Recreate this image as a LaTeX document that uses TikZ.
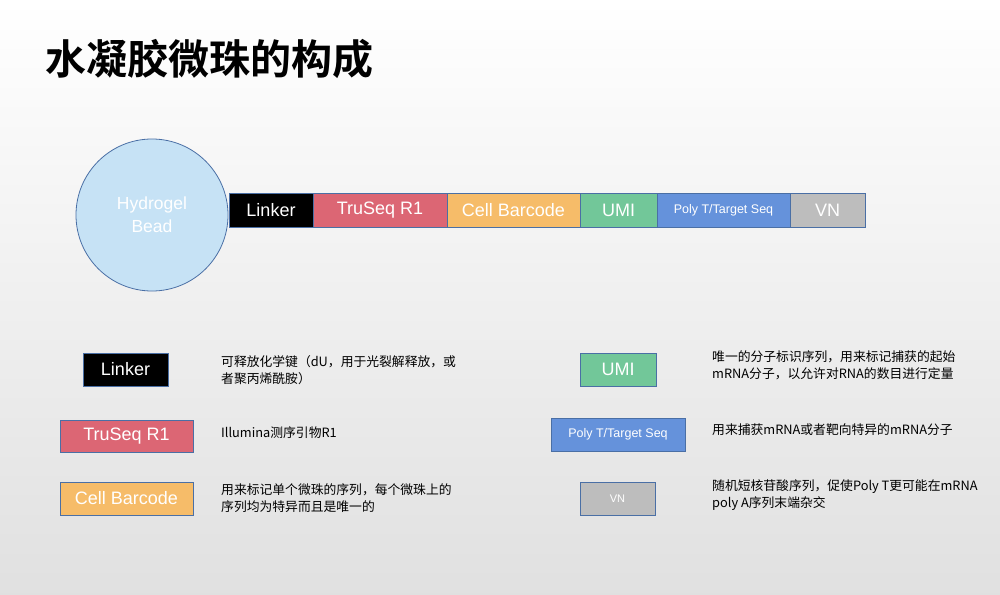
\documentclass[tikz,border=0pt]{standalone}
\usepackage{fontspec}
\setmainfont{Liberation Sans}
\newfontfamily\cjk{Noto Sans CJK SC}
\newfontfamily\cjkb{Noto Sans CJK SC Bold}
\definecolor{bd}{HTML}{4A6FA5}
\definecolor{cRed}{HTML}{DC6674}
\definecolor{cOr}{HTML}{F6BC69}
\definecolor{cGr}{HTML}{72C799}
\definecolor{cBl}{HTML}{6592DB}
\definecolor{cGy}{HTML}{BDBDBD}
\definecolor{cBead}{HTML}{C6E2F5}
\begin{document}
\begin{tikzpicture}[x=1pt,y=-1pt,
  seg/.style={draw=bd,line width=0.8pt,inner sep=0,outer sep=0,text=white,font=\fontsize{18}{18}\selectfont},
  desc/.style={anchor=north west,align=left,inner sep=0,font=\cjk\fontsize{12.8}{17}\selectfont,text=black}]
\shade[top color=white,bottom color=black!12] (0,0) rectangle (1000,594);
\useasboundingbox (0,0) rectangle (1000,594);
\node[anchor=west,inner sep=0,font=\cjkb\fontsize{41}{41}\selectfont] (title) at (45,59) {水凝胶微珠的构成};
\node[circle,draw=bd,line width=0.8pt,fill=cBead,minimum size=152pt,inner sep=0,align=center,text=white,font=\fontsize{17.5}{23}\selectfont] (bead) at (152,215) {Hydrogel\\Bead};
\node[seg,fill=black,minimum width=84pt,minimum height=34pt,anchor=west] (l) at (229,210) {Linker};
\node[seg,fill=cRed,minimum width=134pt,minimum height=34pt,anchor=west] (t) at (l.east) {TruSeq R1};
\node[seg,fill=cOr,minimum width=133pt,minimum height=34pt,anchor=west] (c) at (t.east) {Cell Barcode};
\node[seg,fill=cGr,minimum width=77pt,minimum height=34pt,anchor=west] (u) at (c.east) {UMI};
\node[seg,fill=cBl,minimum width=133pt,minimum height=34pt,anchor=west,font=\fontsize{12.5}{12}\selectfont] (p) at (u.east) {Poly T/Target Seq};
\node[seg,fill=cGy,minimum width=75pt,minimum height=34pt,anchor=west] (v) at (p.east) {VN};
% legend
\node[seg,fill=black,minimum width=85pt,minimum height=33pt] (L2) at (125.5,369.5) {Linker};
\node[seg,fill=cRed,minimum width=133pt,minimum height=32pt] (T2) at (126.5,436) {TruSeq R1};
\node[seg,fill=cOr,minimum width=133pt,minimum height=33pt] (C2) at (126.5,498.5) {Cell Barcode};
\node[seg,fill=cGr,minimum width=76pt,minimum height=33pt] (U2) at (618,369.5) {UMI};
\node[seg,fill=cBl,minimum width=134pt,minimum height=33pt,font=\fontsize{12.5}{12}\selectfont] (P2) at (618,434.5) {Poly T/Target Seq};
\node[seg,fill=cGy,minimum width=75pt,minimum height=33pt,font=\fontsize{11}{11}\selectfont] (V2) at (617.5,498.5) {VN};
\node[desc] (dl) at (221,355) {可释放化学键（dU，用于光裂解释放，或\\者聚丙烯酰胺）};
\node[desc] (dt) at (221,426) {Illumina测序引物R1};
\node[desc] (dc) at (221,483) {用来标记单个微珠的序列，每个微珠上的\\序列均为特异而且是唯一的};
\node[desc] (du) at (712,350) {唯一的分子标识序列，用来标记捕获的起始\\mRNA分子，以允许对RNA的数目进行定量};
\node[desc] (dp) at (712,423) {用来捕获mRNA或者靶向特异的mRNA分子};
\node[desc] (dv) at (712,479) {随机短核苷酸序列，促使Poly T更可能在mRNA\\poly A序列末端杂交};
\end{tikzpicture}
\end{document}
